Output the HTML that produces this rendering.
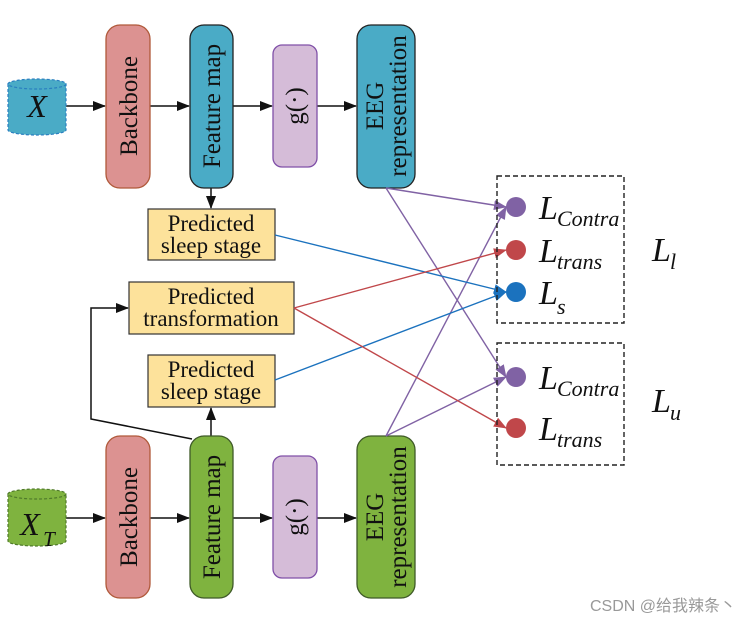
<!DOCTYPE html>
<html><head><meta charset="utf-8"><style>
body{margin:0;background:#fff;}
svg{display:block;font-family:"Liberation Serif",serif;}
</style></head><body>
<svg width="745" height="623" viewBox="0 0 745 623" xmlns="http://www.w3.org/2000/svg">
<defs>
<marker id="ak" markerWidth="13" markerHeight="10" refX="12" refY="5" orient="auto" markerUnits="userSpaceOnUse"><path d="M0,0 L13,5 L0,10 Z" fill="#111"/></marker>
<marker id="ap" markerWidth="13" markerHeight="10" refX="12" refY="5" orient="auto" markerUnits="userSpaceOnUse"><path d="M0,0 L13,5 L0,10 Z" fill="#8062a4"/></marker>
<marker id="ar" markerWidth="13" markerHeight="10" refX="12" refY="5" orient="auto" markerUnits="userSpaceOnUse"><path d="M0,0 L13,5 L0,10 Z" fill="#c0474a"/></marker>
<marker id="ab" markerWidth="13" markerHeight="10" refX="12" refY="5" orient="auto" markerUnits="userSpaceOnUse"><path d="M0,0 L13,5 L0,10 Z" fill="#1b72be"/></marker>
</defs>
<g stroke="#111" stroke-width="1.5" fill="none" marker-end="url(#ak)">
<line x1="66" y1="106" x2="105" y2="106"/><line x1="150" y1="106" x2="189" y2="106"/><line x1="233" y1="106" x2="272" y2="106"/><line x1="317" y1="106" x2="356" y2="106"/>
<line x1="66" y1="518" x2="105" y2="518"/><line x1="150" y1="518" x2="189" y2="518"/><line x1="233" y1="518" x2="272" y2="518"/><line x1="317" y1="518" x2="356" y2="518"/>
<line x1="211" y1="188" x2="211" y2="208"/><line x1="211" y1="436" x2="211" y2="408"/>
<polyline points="192,439 91,419 91,308 128,308"/>
</g>
<g stroke-dasharray="3,2" stroke-width="1.2">
<path d="M8,84 L8,130 A29,5 0 0 0 66,130 L66,84 Z" fill="#4aabc6" stroke="#2a7fc0"/>
<ellipse cx="37" cy="84" rx="29" ry="5" fill="#4aabc6" stroke="#2a7fc0"/>
<path d="M8,494 L8,541 A29,5 0 0 0 66,541 L66,494 Z" fill="#7fb33f" stroke="#4f7a2a"/>
<ellipse cx="37" cy="494" rx="29" ry="5" fill="#7fb33f" stroke="#4f7a2a"/>
</g>
<text x="37" y="117" font-size="32" font-style="italic" text-anchor="middle" fill="#111">X</text>
<text x="30" y="535" font-size="32" font-style="italic" text-anchor="middle" fill="#111">X</text>
<text x="49" y="546" font-size="21" font-style="italic" text-anchor="middle" fill="#111">T</text>
<g stroke-width="1.3">
<rect x="106" y="25" width="44" height="163" rx="14" fill="#dc9291" stroke="#b0593a"/>
<rect x="190" y="25" width="43" height="163" rx="14" fill="#4aabc6" stroke="#222"/>
<rect x="273" y="45" width="44" height="122" rx="9" fill="#d5bcd8" stroke="#8050a8"/>
<rect x="357" y="25" width="58" height="163" rx="14" fill="#4aabc6" stroke="#222"/>
<rect x="106" y="436" width="44" height="162" rx="14" fill="#dc9291" stroke="#b0593a"/>
<rect x="190" y="436" width="43" height="162" rx="14" fill="#7fb33f" stroke="#3f5a28"/>
<rect x="273" y="456" width="44" height="122" rx="9" fill="#d5bcd8" stroke="#8050a8"/>
<rect x="357" y="436" width="58" height="162" rx="14" fill="#7fb33f" stroke="#3f5a28"/>
</g>
<g font-size="25" fill="#111" text-anchor="middle">
<text transform="translate(137,106) rotate(-90)">Backbone</text>
<text transform="translate(220,106) rotate(-90)">Feature map</text>
<text transform="translate(303,106) rotate(-90)">g(·)</text>
<text transform="translate(383,106) rotate(-90)">EEG</text>
<text transform="translate(406,106) rotate(-90)">representation</text>
<text transform="translate(137,517) rotate(-90)">Backbone</text>
<text transform="translate(220,517) rotate(-90)">Feature map</text>
<text transform="translate(303,517) rotate(-90)">g(·)</text>
<text transform="translate(383,517) rotate(-90)">EEG</text>
<text transform="translate(406,517) rotate(-90)">representation</text>
</g>
<g fill="#fde29b" stroke="#333" stroke-width="1.2">
<rect x="148" y="209" width="127" height="51"/>
<rect x="129" y="282" width="165" height="52"/>
<rect x="148" y="355" width="127" height="52"/>
</g>
<g font-size="23" fill="#111" text-anchor="middle">
<text x="211" y="231">Predicted</text><text x="211" y="253">sleep stage</text>
<text x="211" y="304">Predicted</text><text x="211" y="326">transformation</text>
<text x="211" y="377">Predicted</text><text x="211" y="399">sleep stage</text>
</g>
<g stroke-width="1.4" fill="none">
<line x1="386" y1="188" x2="506" y2="207" stroke="#8062a4" marker-end="url(#ap)"/>
<line x1="386" y1="188" x2="506" y2="377" stroke="#8062a4" marker-end="url(#ap)"/>
<line x1="386" y1="436" x2="506" y2="207" stroke="#8062a4" marker-end="url(#ap)"/>
<line x1="386" y1="436" x2="506" y2="377" stroke="#8062a4" marker-end="url(#ap)"/>
<line x1="275" y1="235" x2="506" y2="292" stroke="#1b72be" marker-end="url(#ab)"/>
<line x1="275" y1="380" x2="506" y2="292" stroke="#1b72be" marker-end="url(#ab)"/>
<line x1="294" y1="308" x2="506" y2="250" stroke="#c0474a" marker-end="url(#ar)"/>
<line x1="294" y1="308" x2="506" y2="428" stroke="#c0474a" marker-end="url(#ar)"/>
</g>
<g fill="none" stroke="#222" stroke-width="1.4" stroke-dasharray="5,3">
<rect x="497" y="176" width="127" height="147"/>
<rect x="497" y="343" width="127" height="122"/>
</g>
<circle cx="516" cy="207" r="10" fill="#8062a4"/>
<circle cx="516" cy="250" r="10" fill="#c0474a"/>
<circle cx="516" cy="292" r="10" fill="#1b72be"/>
<circle cx="516" cy="377" r="10" fill="#8062a4"/>
<circle cx="516" cy="428" r="10" fill="#c0474a"/>
<g font-style="italic" fill="#111">
<text x="539" y="219" font-size="34">L</text><text x="557" y="226" font-size="22">Contra</text>
<text x="539" y="262" font-size="34">L</text><text x="557" y="269" font-size="22">trans</text>
<text x="539" y="304" font-size="34">L</text><text x="557" y="314" font-size="22">s</text>
<text x="539" y="389" font-size="34">L</text><text x="557" y="396" font-size="22">Contra</text>
<text x="539" y="440" font-size="34">L</text><text x="557" y="447" font-size="22">trans</text>
<text x="652" y="261" font-size="34">L</text><text x="670" y="269" font-size="22">l</text>
<text x="652" y="412" font-size="34">L</text><text x="670" y="420" font-size="22">u</text>
</g>
<text x="736" y="611" font-size="16" fill="#999" text-anchor="end" font-family="Liberation Sans,'Noto Sans CJK SC',sans-serif">CSDN @给我辣条丶</text>
</svg>
</body></html>
